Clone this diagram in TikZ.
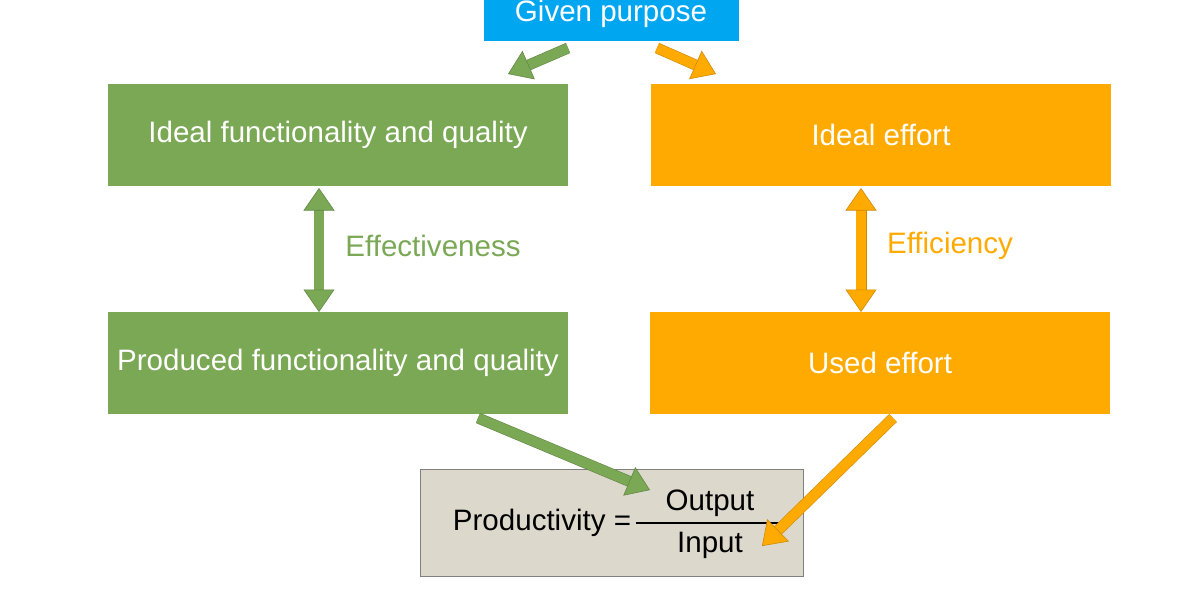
\documentclass[tikz,border=0pt]{standalone}
\usepackage{fontspec}
\setmainfont{Liberation Sans}
\usetikzlibrary{arrows.meta}
\definecolor{gr}{RGB}{122,168,85}
\definecolor{og}{RGB}{255,170,0}
\definecolor{bl}{RGB}{0,166,240}
\definecolor{gy}{RGB}{221,216,204}
\tikzset{
 fs/.style={font=\fontsize{21}{24}\selectfont},
 box/.style={fill=#1,text=white,fs,minimum width=460*0.025cm,minimum height=102*0.025cm,inner sep=0},
 fat/.style={draw=#1!80!black,line width=0.4pt,double=#1,double distance=7pt,-{Triangle[length=16pt,width=22pt,fill=#1]}},
 fatb/.style={draw=#1!80!black,line width=0.4pt,double=#1,double distance=7pt,{Triangle[length=16pt,width=22pt,fill=#1]}-{Triangle[length=16pt,width=22pt,fill=#1]}},
}
\begin{document}
\begin{tikzpicture}[x=0.025cm,y=-0.025cm]
\useasboundingbox (0,0) rectangle (1200,600);
\fill[white] (0,0) rectangle (1200,600);
\node[box=bl,minimum width=255*0.025cm,minimum height=50*0.025cm,anchor=south] (gp) at (611.5,41) {};
\node[text=white,fs] at (611,14) {Given purpose};
\node[box=gr] (g1) at (338,135) {Ideal functionality and quality};
\node[box=og] (o1) at (881,135) {Ideal effort};
\node[box=gr] (g2) at (338,363) {Produced functionality and quality};
\node[box=og] (o2) at (880,363) {Used effort};
\node[draw=gray,fill=gy,minimum width=383*0.025cm,minimum height=107*0.025cm,inner sep=0] (p) at (611.5,523) {};
\node[anchor=east,fs] (pl) at (636,523) {Productivity =};
\node[fs] (out) at (710,503) {Output};
\node[fs] (in) at (710,545) {Input};
\draw[line width=0.8pt] (636,523) -- (780,523);
\coordinate (a1) at (568,48); \coordinate (a2) at (508,74);
\coordinate (b1) at (657,48); \coordinate (b2) at (716,74);
\draw[fat=gr] (a1) -- (a2);
\draw[fat=og] (b1) -- (b2);
\draw[fatb=gr] (319,188) -- (319,312);
\draw[fatb=og] (861,188) -- (861,312);
\node[text=gr,fs] at (433,246) {Effectiveness};
\node[text=og,fs] at (950,246) {Efficiency};
\coordinate (c1) at (478,418); \coordinate (c2) at (650,490);
\coordinate (d1) at (893,418); \coordinate (d2) at (762,546);
\draw[fat=gr] (c1) -- (c2);
\draw[fat=og] (d1) -- (d2);
\end{tikzpicture}
\end{document}
